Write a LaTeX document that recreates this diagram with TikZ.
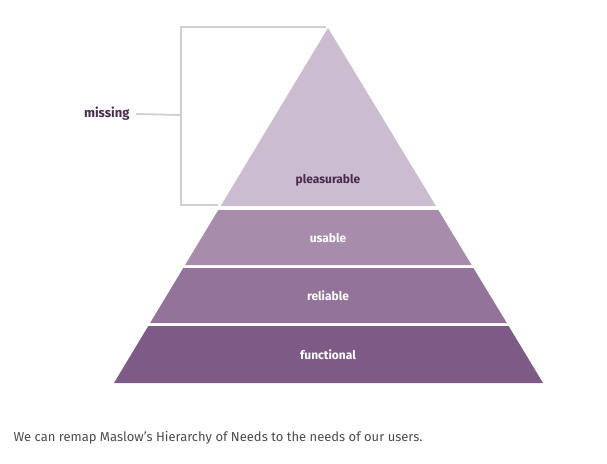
\documentclass[tikz,border=0pt]{standalone}
\usepackage{fontspec}
\setmainfont{Fira Sans}
\usetikzlibrary{positioning}
\definecolor{tierA}{HTML}{CBBCCF}
\definecolor{tierB}{HTML}{A88CAB}
\definecolor{tierC}{HTML}{94739A}
\definecolor{tierD}{HTML}{7E5A86}
\definecolor{inkdark}{HTML}{4A2A4E}
\definecolor{bracketgray}{HTML}{CFCFCF}
\tikzset{
  tier/.style = {draw=none},
  tierlabel/.style = {font=\fontsize{12}{14}\selectfont\bfseries, text=white},
}
\begin{document}
\begin{tikzpicture}[x=1pt,y=-1pt]
\useasboundingbox (0,0) rectangle (607,463);
    % tiers of the pyramid
    \fill[tierA] (328,28) -- (435.9,206) -- (220.7,206) -- cycle;
    \fill[tierB] (218.3,210) -- (438.3,210) -- (471.6,265) -- (185.1,265) -- cycle;
    \fill[tierC] (183.3,268) -- (473.4,268) -- (506.8,323) -- (150.1,323) -- cycle;
    \fill[tierD] (148.3,326) -- (508.6,326) -- (543,383) -- (114,383) -- cycle;
    \node[tierlabel, text=inkdark] (pleasurable) at (328,180) {pleasurable};
    \node[tierlabel] (usable) at (328,238) {usable};
    \node[tierlabel] (reliable) at (328,296) {reliable};
    \node[tierlabel] (functional) at (328,355) {functional};
    % bracket
    \coordinate (apex) at (326,27);
    \coordinate (foot) at (218,205);
    \coordinate (tick) at (181,115);
    \node[font=\fontsize{13}{15}\selectfont\bfseries, text=inkdark, anchor=east] (missing) at (133,114) {missing};
    \draw[bracketgray, line width=1.8pt] (apex) -| (181,205) -- (foot);
    \draw[bracketgray, line width=1.8pt] (missing.east) ++(3,0) -- (tick);
    \node[font=\fontsize{13}{15}\selectfont, text=black!70, anchor=west] (caption) at (10,438)
      {We can remap Maslow’s Hierarchy of Needs to the needs of our users.};
\end{tikzpicture}
\end{document}
